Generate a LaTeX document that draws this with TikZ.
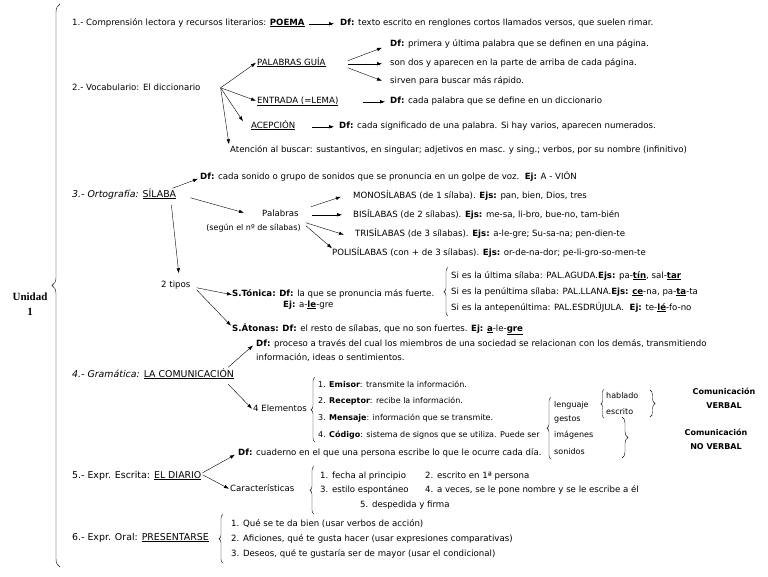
\documentclass[tikz,border=0pt]{standalone}
\usepackage{fontspec}
\setmainfont{DejaVu Sans}
\newfontfamily\unifont{Liberation Serif}
\usepackage{tikz}
\usepackage{xcolor}
\usetikzlibrary{positioning, calc, arrows.meta, decorations.markings, decorations.pathreplacing}
\tikzstyle{Arrow} = [
thin,
decoration={
markings,
mark=at position 0.9999 with {
\arrow{Latex[length=5pt,width=3.5pt]}}},
shorten >= 2pt, preaction = {decorate}]
\tikzstyle{Txt} = [anchor=base west, inner sep=0pt, text height=6.5pt, text depth=2pt,
font=\fontsize{8.6}{10}\selectfont]
\tikzstyle{Head} = [Txt, font=\fontsize{9.4}{11}\selectfont]
\tikzstyle{Small} = [Txt, font=\fontsize{8}{10}\selectfont]
\tikzstyle{Brace} = [thin, decorate, decoration={brace, amplitude=4pt}]

\begin{document}
\begin{tikzpicture}[x=1pt, y=-1pt]
    \useasboundingbox (0,0) rectangle (768,576);
    \node [align=center, font=\unifont\bfseries\fontsize{11}{15}\selectfont] (0) at (30,304) {Unidad\\1};
    \coordinate (u1) at (60,567);
    \coordinate (u2) at (60,4);
    \draw[Brace, decoration={amplitude=8pt}] (u1) -- (u2);

    % 1.- poema
    \node [Txt] (11) at (72,25) {1.- Comprensión lectora y recursos literarios: \underline{\textbf{POEMA}}};
    \node [Txt] (12) at (340,25) {\textbf{Df:} texto escrito en renglones cortos llamados versos, que suelen rimar.};
    \draw[Arrow] ($(11.east)+(4,1)$) -- ($(12.west)+(-6,1)$);

    % 2.- diccionario
    \node [Txt] (21) at (72,90) {2.- Vocabulario: El diccionario};
    \coordinate (2f) at ($(21.east)+(20,0)$);
    \node [Txt] (22) at (257,65) {\underline{PALABRAS GUÍA}};
    \node [Txt] (221) at (390,46) {\textbf{Df:} primera y última palabra que se definen en una página.};
    \node [Txt] (222) at (390,65) {son dos y aparecen en la parte de arriba de cada página.};
    \node [Txt] (223) at (390,83) {sirven para buscar más rápido.};
    \node [Txt] (23) at (257,103) {\underline{ENTRADA (=LEMA)}};
    \node [Txt] (231) at (390,103) {\textbf{Df:} cada palabra que se define en un diccionario};
    \node [Txt] (24) at (251,128) {\underline{ACEPCIÓN}};
    \node [Txt] (241) at (339,128) {\textbf{Df:} cada significado de una palabra. Si hay varios, aparecen numerados.};
    \node [Txt] (25) at (230,152) {Atención al buscar: sustantivos, en singular; adjetivos en masc. y sing.; verbos, por su nombre (infinitivo)};

    \draw[Arrow] (2f) -- ($(22.west)+(-1,0)$);
    \draw[Arrow] (2f) -- ($(23.west)+(-1,0)$);
    \draw[Arrow] (2f) -- ($(24.north west)+(-8,0)$);
    \draw[Arrow] (2f) -- ($(25.north west)+(-1,-1)$);
    \draw[Arrow] ($(22.east)+(22,-2)$) -- ($(221.west)+(-8,4)$);
    \draw[Arrow] ($(22.east)+(22,1)$) -- ($(222.west)+(-8,1)$);
    \draw[Arrow] ($(22.east)+(22,5)$) -- ($(223.west)+(-8,0)$);
    \draw[Arrow] ($(23.east)+(24,1)$) -- ($(231.west)+(-5,1)$);
    \draw[Arrow] ($(24.east)+(16,1)$) -- ($(241.west)+(-5,1)$);

    % 3.- silaba
    \node [Head] (31) at (72,197) {{\itshape 3.- Ortografía:} \underline{SÍLABA}};
    \node [Txt] (32) at (200,179) {\textbf{Df:} cada sonido o grupo de sonidos que se pronuncia en un golpe de voz.\ \ \textbf{Ej:} A - VIÓN};
    \node [Txt] (33) at (262,216) {Palabras};
    \node [Small, anchor=base east] (34) at ($(33.base east)+(2,14)$) {(según el nº de sílabas)};
    \node [Txt] (35) at (353,198) {MONOSÍLABAS (de 1 sílaba). \textbf{Ejs:} pan, bien, Dios, tres};
    \node [Txt] (36) at (353,217) {BISÍLABAS (de 2 sílabas). \textbf{Ejs:} me-sa, li-bro, bue-no, tam-bién};
    \node [Txt] (37) at (355,236) {TRISÍLABAS (de 3 sílabas). \textbf{Ejs:} a-le-gre; Su-sa-na; pen-dien-te};
    \node [Txt] (38) at (332,255) {POLISÍLABAS (con + de 3 sílabas). \textbf{Ejs:} or-de-na-dor; pe-li-gro-so-men-te};
    \node [Txt] (39) at (161,287) {2 tipos};
    \node [Txt] (310) at (232,296) {\textbf{S.Tónica:} \textbf{Df:} la que se pronuncia más fuerte.};
    \node [Txt] (311) at (283,307) {\textbf{Ej:} a-\underline{\textbf{le}}-gre};
    \node [Txt] (312) at (232,331) {\textbf{S.Átonas:} \textbf{Df:} el resto de sílabas, que no son fuertes. \textbf{Ej:} \underline{\textbf{a}}-le-\underline{\textbf{gre}}};
    \node [Txt] (313) at (451,278) {Si es la última sílaba: PAL.AGUDA.\textbf{Ejs:} pa-\underline{\textbf{tín}}, sal-\underline{\textbf{tar}}};
    \node [Txt] (314) at (451,294) {Si es la penúltima sílaba: PAL.LLANA.\textbf{Ejs:} \underline{\textbf{ce}}-na, pa-\underline{\textbf{ta}}-ta};
    \node [Txt] (315) at (451,310) {Si es la antepenúltima: PAL.ESDRÚJULA.\ \ \textbf{Ej:} te-\underline{\textbf{lé}}-fo-no};

    \draw[Arrow] ($(31.north east)+(-4,-2)$) -- ($(32.west)+(-2,2)$);
    \draw[Arrow] ($(31.east)+(14,3)$) -- ($(33.west)+(-18,-1)$);
    \draw[Arrow] ($(31.south east)+(-5,6)$) -- ($(39.north)+(3,-7)$);
    \draw[Arrow] ($(33.east)+(12,-7)$) -- ($(35.west)+(-12,1)$);
    \draw[Arrow] ($(33.east)+(13,1)$) -- ($(36.west)+(-11,0)$);
    \draw[Arrow] ($(33.east)+(7,9)$) -- ($(37.west)+(-11,1)$);
    \draw[Arrow] ($(33.east)+(7,12)$) -- ($(38.north west)+(0,0)$);
    \draw[Arrow] ($(39.east)+(6,3)$) -- ($(310.west)+(0,1)$);
    \draw[Arrow] ($(39.east)+(6,5)$) -- ($(312.west)+(-1,-3)$);
    \draw[Brace] ($(315.south west)+(-3,4)$) -- ($(313.north west)+(-3,-4)$);

    % 4.- comunicacion
    \node [Head] (41) at (72,377) {{\itshape 4.- Gramática:} \underline{LA COMUNICACIÓN}};
    \node [anchor=base west, inner sep=0pt, align=left, font=\fontsize{8.6}{13.5}\selectfont] (42) at (256,360)
        {\textbf{Df:} proceso a través del cual los miembros de una sociedad se relacionan con los demás, transmitiendo\\información, ideas o sentimientos.};
    \node [Txt] (43) at (253,411) {4 Elementos};
    \node [Small] (44) at (318,387) {1. \textbf{Emisor}: transmite la información.};
    \node [Small] (45) at (318,403) {2. \textbf{Receptor}: recibe la información.};
    \node [Small] (46) at (318,420) {3. \textbf{Mensaje}: información que se transmite.};
    \node [Small] (47) at (318,437) {4. \textbf{Código}: sistema de signos que se utiliza. Puede ser};
    \node [Small] (48) at (554,407) {lenguaje};
    \node [Small] (49) at (554,421) {gestos};
    \node [Small] (410) at (554,437) {imágenes};
    \node [Small] (411) at (554,454) {sonidos};
    \node [Small] (412) at (606,398) {hablado};
    \node [Small] (413) at (606,414) {escrito};
    \node [align=center, inner sep=0pt, font=\fontsize{8}{14}\selectfont\bfseries] (414) at (724,398) {Comunicación\\VERBAL};
    \node [align=center, inner sep=0pt, font=\fontsize{8}{14}\selectfont\bfseries] (415) at (716,439) {Comunicación\\NO VERBAL};
    \coordinate (4v1) at (650,390);
    \coordinate (4v2) at (650,417);
    \coordinate (4n1) at (622,417);
    \coordinate (4n2) at (622,458);

    \draw[Arrow] ($(41.north east)+(-6,-3)$) -- ($(42.north west)+(-3,6)$);
    \draw[Arrow] ($(41.south east)+(-6,5)$) -- ($(43.west)+(-1,0)$);
    \draw[Brace] ($(47.south west)+(-3,3)$) -- ($(44.north west)+(-3,-3)$);
    \draw[Brace] ($(411.south west)+(-3,3)$) -- ($(48.north west)+(-3,-3)$);
    \draw[Brace, decoration={amplitude=3pt}] ($(413.south west)+(-2,2)$) -- ($(412.north west)+(-2,-2)$);
    \draw[Brace, decoration={amplitude=5pt}] (4v1) -- (4v2);
    \draw[Brace, decoration={amplitude=6pt}] (4n1) -- (4n2);

    % 5.- diario
    \node [Head] (51) at (72,478) {5.- Expr. Escrita: \underline{EL DIARIO}};
    \node [Txt] (52) at (238,455) {\textbf{Df:} cuaderno en el que una persona escribe lo que le ocurre cada día.};
    \node [Txt] (53) at (230,491) {Características};
    \node [Txt] (54) at (320,478) {1. fecha al principio};
    \node [Txt] (55) at (425,478) {2. escrito en 1ª persona};
    \node [Txt] (56) at (320,492) {3. estilo espontáneo};
    \node [Txt] (57) at (425,492) {4. a veces, se le pone nombre y se le escribe a él};
    \node [Txt] (58) at (360,507) {5. despedida y firma};

    \draw[Arrow] ($(51.east)+(1,-3)$) -- ($(52.west)+(-3,2)$);
    \draw[Arrow] ($(51.east)+(1,-1)$) -- ($(53.west)+(-1,0)$);
    \draw[Brace] ($(54.west |- 58.south)+(-6,5)$) -- ($(54.north west)+(-6,-5)$);

    % 6.- presentarse
    \node [Head] (61) at (72,540) {6.- Expr. Oral: \underline{PRESENTARSE}};
    \node [Txt] (62) at (231,526) {1. Qué se te da bien (usar verbos de acción)};
    \node [Txt] (63) at (231,541) {2. Aficiones, qué te gusta hacer (usar expresiones comparativas)};
    \node [Txt] (64) at (231,556) {3. Deseos, qué te gustaría ser de mayor (usar el condicional)};
    \draw[Brace] ($(64.south west)+(-8,5)$) -- ($(62.north west)+(-8,-5)$);
\end{tikzpicture}
\end{document}
